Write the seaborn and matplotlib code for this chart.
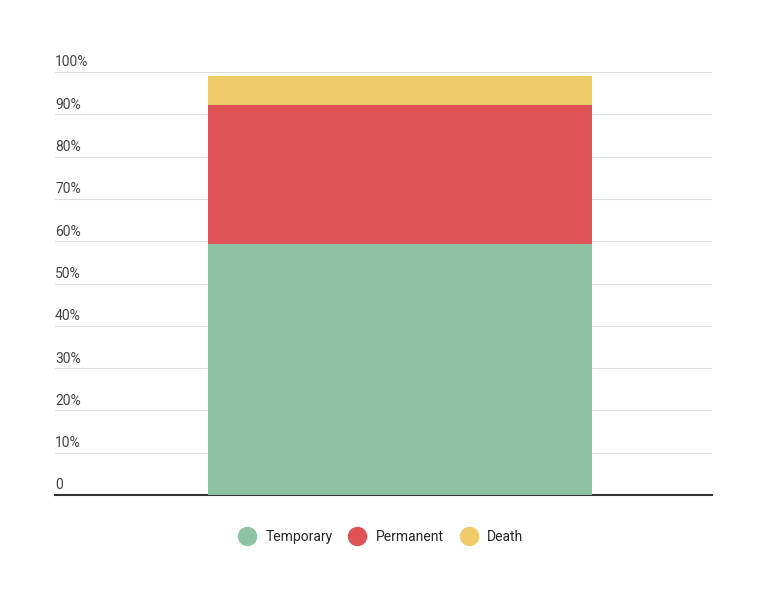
import matplotlib
matplotlib.use("Agg")
import matplotlib.pyplot as plt
import seaborn as sns
import pandas as pd
from matplotlib.lines import Line2D

categories = ["All"]
temporary = [59.3]
permanent = [32.9]
death = [6.9]
series_names = ["Temporary", "Permanent", "Death"]
colors = ["#8fc3a5", "#df5357", "#efcb6a"]
tick_values = [0, 10, 20, 30, 40, 50, 60, 70, 80, 90, 100]
tick_labels = ["0"] + [f"{v}%" for v in tick_values[1:]]

sns.set_style("white")
plt.rcParams['font.family'] = ['Roboto', 'DejaVu Sans']

fig = plt.figure(figsize=(7.68, 6.08), dpi=100)
ax = fig.add_axes([55/768, 1-495/608, (712-55)/768, 423/608])

df = pd.DataFrame({"cat": categories, "Temporary": temporary,
                   "Permanent": permanent, "Death": death})
cum = [temporary[0], temporary[0] + permanent[0], temporary[0] + permanent[0] + death[0]]
for name, col, top in reversed(list(zip(series_names, colors, cum))):
    sns.barplot(x=df["cat"], y=[top], color=col, ax=ax, width=0.585,
                saturation=1, linewidth=0, zorder=3)

ax.set_xlim(-0.5256, 0.4753)
ax.set_ylim(0, 100)
ax.set_yticks(tick_values)
ax.set_yticklabels([])
ax.tick_params(left=False, bottom=False)
ax.set_xticklabels([])
ax.set_xlabel("")
ax.set_ylabel("")
ax.grid(axis="y", color="#dddddd", linewidth=0.8, zorder=0)
ax.set_axisbelow(True)
for s in ["top", "right", "left"]:
    ax.spines[s].set_visible(False)
ax.spines["bottom"].set_color("#333333")
ax.spines["bottom"].set_linewidth(1.5)
for v, lab in zip(tick_values, tick_labels):
    ax.text(0, v + 0.6, lab, transform=ax.get_yaxis_transform(), ha="left",
            va="bottom", fontsize=10, color="#444444")

handles = [Line2D([], [], marker="o", linestyle="", markersize=13, color=c) for c in colors]
fig.legend(handles, series_names, loc="center", bbox_to_anchor=(378/768, 1-537/608),
           ncol=3, frameon=False, fontsize=10, handletextpad=0.3, columnspacing=0.8)
fig.savefig("out.png", dpi=100)
